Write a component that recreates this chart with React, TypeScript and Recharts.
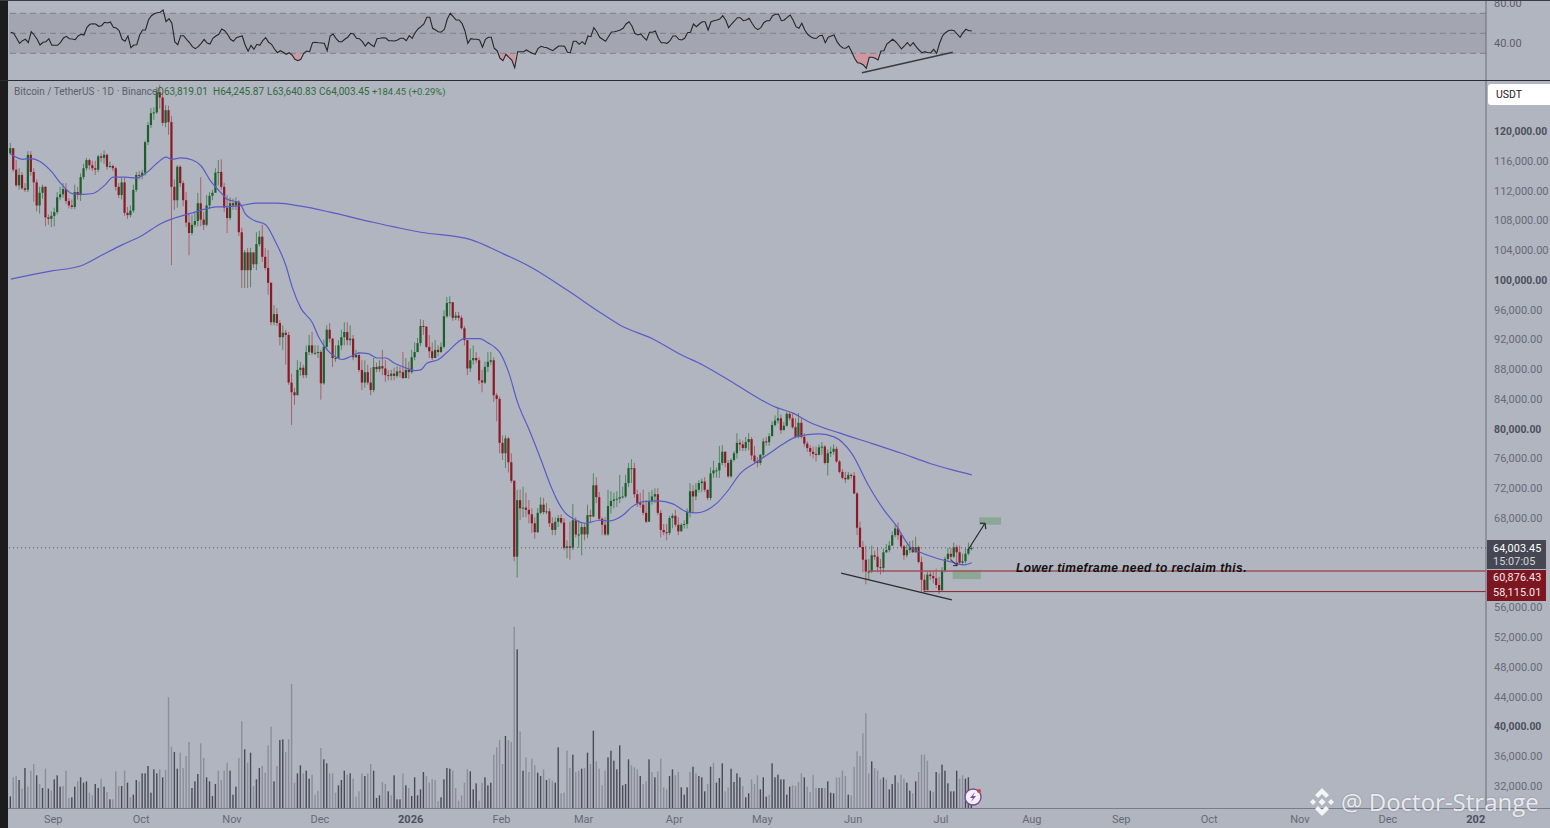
import React from "react";
import {
  Area,
  Bar,
  ComposedChart,
  Line,
  ReferenceArea,
  ReferenceLine,
  XAxis,
  YAxis,
} from "recharts";

// all prices are in thousand USDT (first bar is 17 Aug 2025)
const firstOpen = 117.0;
const closes = [
  117.7, 114.8, 112.7, 114.1, 112.3, 112.1, 116.8, 114.5, 113.1, 110,
  111.7, 112.5, 108.4, 108.2, 108.6, 109.1, 111.1, 111.5, 112.2, 110.6,
  110, 109.8, 111.8, 111.4, 113.8, 115, 116.1, 115.4, 115, 114.8,
  116.6, 116.4, 116.8, 115.2, 115.3, 115, 112.5, 111.4, 113.1, 109,
  108.7, 109.3, 112.1, 114.1, 114, 114.4, 118.5, 120.8, 122.4, 122.5,
  125.2, 124.5, 121.1, 122.8, 121.2, 112.5, 110.7, 115.2, 113, 110.7,
  107.7, 106.3, 107.4, 107.9, 110.3, 108.1, 107.4, 110, 111.3, 111.7,
  114.4, 114.5, 112.5, 109.7, 108.3, 110.3, 110, 110.5, 106.4, 101.3,
  103.7, 101.3, 103.7, 102.1, 104.8, 105.8, 103.1, 101.6, 99.6, 94.3,
  95.4, 94.2, 92.3, 92.9, 92.6, 86.2, 84.9, 84.5, 87.9, 88.2,
  87.2, 90.3, 91.2, 90.2, 90.2, 90.3, 86.1, 91, 93.3, 92.1,
  89.5, 89.5, 91.2, 92.3, 93, 91.9, 92.1, 89.6, 89.9, 87.9,
  86.2, 87.6, 86.2, 85.2, 88.3, 88, 88.4, 88.1, 87.2, 87.1,
  87.4, 87.1, 87.7, 87.6, 86.8, 87.9, 87.6, 89.6, 90.3, 91.5,
  93.8, 93.7, 91, 90.4, 89.5, 90.6, 90.3, 91, 95.1, 96.9,
  97, 94.9, 95.2, 94.9, 93.5, 91.9, 88.1, 89.2, 89.5, 89.2,
  86.5, 86.2, 88.3, 89, 89.2, 84.5, 84, 78.1, 76.7, 78.7,
  75.5, 73, 62.8, 70.4, 69.3, 69.4, 69.1, 68.5, 67.3, 66.1,
  68.7, 69.8, 68.8, 68.9, 67.3, 66.4, 67.5, 68, 67.4, 64,
  64.2, 64, 67.7, 65.8, 65.8, 66.8, 65.8, 68.4, 68.2, 72.4,
  70.8, 67.9, 67.1, 65.8, 69.6, 70.3, 70.5, 70.6, 70.8, 70.9,
  72.7, 74.7, 74.7, 71.2, 70, 69.8, 68.7, 67.5, 70.3, 70.9,
  71.2, 68.7, 66.4, 66.1, 66, 68, 68.3, 67.1, 66.2, 67.1,
  67.2, 68.8, 71.6, 70.9, 71.8, 72.7, 72.9, 71.8, 70.7, 74,
  74.4, 74.4, 75.4, 76.9, 75.4, 73.6, 75.8, 76.7, 78.1, 77.9,
  77.4, 78.2, 78.6, 76.4, 75.6, 75.4, 76.5, 78.3, 78.2, 79,
  80.5, 81.1, 81.4, 79.8, 80.4, 82, 81.4, 80.2, 78.9, 80.8,
  78.9, 78, 77.4, 76.9, 76.6, 76.5, 77.5, 77.6, 75.4, 76.7,
  76.9, 77.3, 75.6, 74.2, 73.4, 73.2, 73.8, 73.7, 71.3, 66.7,
  64.1, 62.4, 60.8, 60.8, 63, 62.8, 61.4, 61.3, 63.4, 63.7,
  64.3, 65.7, 66.6, 65.7, 64.2, 63, 63.7, 64.1, 63.4, 64.1,
  62.1, 59.7, 58.3, 60.4, 60.2, 59.9, 59, 58.3, 60.9, 62.5,
  63.2, 62.8, 64.1, 63.4, 62, 62.2, 63.2, 63.82, 64.0,
];
const highs = [
  118.4, 117.3, 116.1, 115, 114.5, 113, 117.3, 117.3, 115, 113.5,
  112.5, 112.8, 112.6, 108.8, 109.2, 109.7, 111.8, 112.5, 113, 113,
  111, 110.8, 112.8, 112.5, 114.3, 115.6, 116.4, 116.3, 116, 116,
  116.8, 117, 117.4, 117, 115.9, 115.5, 115.2, 113, 113.7, 113.7,
  109.8, 110, 112.8, 114.5, 114.6, 114.8, 118.7, 121.2, 123.1, 123.2,
  125.9, 126.2, 125.2, 123.5, 123.4, 122, 113.5, 115.4, 115.4, 113.3,
  111.8, 109, 108.7, 109.1, 111.7, 113.8, 109.1, 111.4, 111.8, 112.1,
  115, 116.1, 116.2, 113, 111.4, 111.1, 110.9, 111.1, 110.7, 107,
  104, 104.3, 104.3, 103.3, 106.4, 106.6, 107.4, 104.3, 104, 99.7,
  96.6, 96.2, 94.6, 93.9, 93.3, 93, 87.4, 85.5, 89.2, 89,
  88.6, 91.2, 92.6, 93, 91.2, 91.2, 90.6, 92, 93.9, 94.2,
  92.2, 91.2, 91.9, 93.3, 94.3, 94.3, 93.9, 92.6, 90.6, 90.3,
  89.2, 89.2, 88.6, 88.2, 89.5, 88.9, 89.2, 90.6, 89.2, 87.9,
  87.9, 88.2, 88.4, 88.3, 90.3, 89.5, 89, 90.6, 91.6, 92.2,
  94.7, 94.6, 93.8, 92.6, 91.6, 91.9, 91.2, 91.6, 95.9, 97.7,
  97.8, 97, 95.7, 95.7, 95.2, 93.8, 91.9, 90.8, 91.2, 90.3,
  89.6, 87.9, 89, 90.3, 90.3, 89.6, 84.8, 84.3, 79.1, 79.1,
  78.9, 76.7, 73.1, 71.8, 71.8, 72.2, 71.4, 70.4, 69.3, 68.1,
  69.3, 70.8, 70.7, 70, 69.3, 68.1, 68.1, 68.4, 68.5, 68,
  65, 67.5, 69.9, 68.1, 67.7, 67.3, 67.3, 69.8, 69.1, 74,
  73.5, 71.5, 68.1, 68.1, 71.8, 71.6, 71.4, 71.6, 73.8, 72.2,
  73.8, 75.4, 75.9, 75.4, 71.8, 71.4, 71.8, 70.4, 71.5, 71.8,
  72, 72, 69.1, 67.2, 67.2, 68.3, 68.6, 69.1, 68.1, 67.3,
  67.7, 69.3, 72.7, 72.4, 72.7, 73.1, 73.3, 73.5, 71.8, 74.8,
  75.7, 74.8, 77.7, 77.8, 77, 75.8, 76, 77, 79.4, 78.6,
  78.4, 78.9, 79.4, 78.9, 77.7, 76.2, 76.6, 78.7, 78.9, 79.4,
  81, 81.8, 82.8, 81.9, 80.9, 82.3, 82.3, 82.1, 81.4, 82.1,
  81.4, 79.4, 78.3, 77.8, 77.6, 77.6, 77.9, 78.2, 77.8, 77.2,
  77.6, 77.9, 77.6, 75.8, 74.6, 74.2, 74.2, 74, 74.2, 71.5,
  67.5, 64.9, 64.3, 62.5, 64.3, 63.6, 64.1, 62.5, 63.9, 64.5,
  64.9, 66.2, 67.2, 67.4, 66, 64.4, 64.4, 64.9, 65, 65.5,
  64.3, 62.8, 60.4, 60.8, 61, 60.8, 61.2, 60.1, 61.4, 62.8,
  64, 64, 64.7, 64.4, 64.3, 63.2, 64, 64.7, 64.25,
];
const lows = [
  116.8, 114.5, 112.5, 112.1, 112.1, 111.8, 111.8, 114, 110.5, 109.2,
  108.9, 110.9, 107.2, 107.4, 107.1, 107.2, 108.8, 110.7, 111, 110.2,
  109.6, 109.5, 109.5, 110.8, 110.6, 113.5, 114.7, 114.8, 114.6, 114.1,
  114.5, 115.8, 115.6, 114.8, 115, 114.6, 112, 111, 110.8, 108.6,
  108.2, 108.4, 109, 111.8, 113.5, 113.5, 114, 118.1, 120.4, 121.5,
  122.3, 123, 120.7, 120.5, 119.5, 102, 109.4, 109.7, 112.5, 109.9,
  107.1, 103.3, 106, 107.1, 107.2, 107.2, 106.7, 107.2, 109.5, 110.7,
  112.1, 112.7, 112.1, 109.1, 106.3, 108, 109.4, 109.4, 105.9, 98.9,
  98.9, 98.9, 99, 101.6, 101.3, 104.5, 102.4, 101.3, 98, 93.9,
  93.9, 93.8, 91.2, 90.6, 88.6, 85.9, 80.5, 83.2, 84.5, 87.1,
  86.8, 86.8, 89.9, 89.9, 89.9, 89.5, 83.9, 85.9, 90.6, 91.6,
  88.3, 89, 89.5, 90.6, 91.2, 91.2, 91.2, 89.2, 89.5, 87.6,
  85.2, 85.5, 85.9, 84.5, 84.9, 87.6, 87.6, 87.2, 86.3, 86.5,
  86.5, 86.5, 86.8, 86.9, 86.7, 86.8, 86.7, 87.4, 89.2, 90.3,
  91.1, 92.6, 90.8, 89.5, 89.2, 89.5, 89.7, 90.2, 90.8, 94.9,
  95.1, 94.5, 94.6, 94.5, 93.3, 91.2, 87.2, 87.6, 88.6, 88.8,
  86, 84.9, 86, 87.6, 88.6, 83.6, 81, 76.7, 75.8, 74.7,
  74.1, 72.7, 62.2, 60, 67.7, 68.1, 68.1, 67.3, 66, 65.2,
  66, 68.5, 68.5, 68.5, 66.8, 65.7, 65.7, 66.8, 67.2, 63.7,
  62.6, 62.4, 63.7, 65.4, 64, 63, 65, 65.3, 67.3, 68.1,
  70, 67.7, 65.7, 65.6, 65.6, 68.6, 69.3, 69.5, 70, 70.6,
  70.7, 72.2, 72.7, 70.7, 69.5, 69.4, 68.4, 67.3, 67.7, 69.8,
  70, 68.4, 65.4, 65.7, 65, 65.7, 66.6, 66.8, 65.7, 66.5,
  66.6, 66.6, 68.1, 68.7, 70.4, 71.4, 71.5, 71.5, 70.4, 70.4,
  73.4, 73.4, 73.4, 75.1, 74.8, 73.4, 73.4, 75.6, 76, 77,
  77, 77, 77.1, 75.8, 75.4, 74.8, 75.1, 76.1, 77.7, 77.7,
  79, 80.3, 80.7, 79.3, 79.8, 80.3, 81.1, 80, 78.7, 78.7,
  78.7, 77.6, 76.9, 76.3, 76, 75.6, 76.4, 76.5, 75.2, 73.7,
  76.2, 76.5, 75.4, 74, 73.2, 72.7, 73.2, 73.3, 71.2, 65.7,
  64, 60.7, 59.1, 59.7, 60.6, 62.4, 60.7, 60.4, 60.7, 63.3,
  63.4, 64.3, 65.4, 65.1, 64, 62.4, 62.7, 63.3, 63.3, 63.3,
  61.9, 58, 58, 58.6, 59.7, 59.2, 58.6, 57.8, 58.2, 60.7,
  62.2, 62.2, 62.6, 61.7, 61.7, 61.7, 61.9, 63, 63.64,
];

// thousand BTC, and tone of each volume bar as drawn (d = dark, l = light)
const volumes = [
  8.75, 23, 24, 21, 14.5, 30, 16, 28, 33, 24.5,
  18, 15, 29.5, 14.5, 13, 21.5, 24.5, 16, 16.5, 28,
  7.5, 8, 16, 20, 23, 19, 20, 11.5, 9.5, 18,
  15, 22, 16, 12, 6.5, 6.5, 27.5, 16.5, 16.5, 28,
  19, 8, 10, 21, 20, 26, 26, 31.5, 11.5, 29,
  26, 29, 23, 28.5, 83, 46, 42, 29.5, 41.5, 30,
  39, 49.5, 15, 20, 25.5, 48.5, 37.5, 23, 20, 9,
  18, 28, 21, 28, 34, 28, 10, 16, 37.5, 65,
  44, 34, 41.5, 16.5, 21.5, 30, 31.5, 26.5, 47, 61,
  20, 31.5, 51, 51.5, 42, 51.5, 93, 19, 26, 32,
  26, 28, 22, 25, 10, 13, 45, 36.5, 33.5, 26,
  26, 11.5, 17, 21, 28, 25, 26, 22, 8.5, 12.5,
  26, 24, 26, 33, 28, 7.5, 9.5, 19.5, 18, 12.5,
  9.5, 24.5, 6.5, 6.5, 26, 17, 15, 9, 23, 9.5,
  14, 27, 24, 19, 21.5, 21, 5, 8, 21.5, 30,
  29.5, 28, 15, 5.5, 9.5, 19, 29, 27.5, 14, 18.5,
  5.5, 19, 23, 17, 19,
  40, 45.5, 51, 33, 54, 51, 49.5, 136, 119, 57.5,
  28, 38, 27, 37, 32, 26.5, 24, 29, 21, 22,
  20.5, 19, 45.5, 11, 11.5, 43, 30, 40, 27, 28,
  29.5, 30, 41.5, 33, 58, 35, 29.5, 17, 28, 38,
  43, 35.5, 29, 47, 17, 18, 36.5, 32, 30.5, 29,
  24, 18, 20, 36.5, 27, 23, 27.5, 37, 15.5, 14,
  24, 29, 24.5, 27, 15.5, 10, 15.5, 27, 31, 26,
  24, 23, 12.5, 18, 31, 34, 19, 22.5, 33.5, 12.5,
  15.5, 29.5, 19.5, 26, 23, 16.5, 8, 11, 21.5, 18,
  24.5, 14, 23, 8.5, 10, 33.5, 23, 25, 21.5, 21.5,
  10, 16, 17, 16.5, 19.5, 26, 23, 16, 12, 25,
  15, 15, 15, 15, 20, 11.5, 11, 23, 23, 28,
  24, 10, 9.5, 31, 42.5, 39, 56, 71, 26, 35,
  30, 28, 21.5, 23, 21.5, 14, 18, 24.5, 19, 25,
  22, 19, 13, 11, 20, 27, 40, 40, 35.5, 13,
  12, 27, 26, 32.5, 28, 18.5, 12.5, 12.5, 28, 22,
  24.5, 22, 23, 12,
];
const volumeTones = [
  "dlldldllld", "ldldlddd" + "ll", "lddlddd" + "lld", "dldldllldl",
  "dldd" + "lddddd", "dldll" + "lddll", "lldddlld" + "dd", "dllllddd" + "ll",
  "dldlddllll", "dlddllll" + "dd", "lddllllddl", "llddd" + "ldlll",
  "ldlldddlld", "lddd" + "ldldd" + "d", "ddlllllddd", "dllllllddd",
  "llddd",
  "lllldlll" + "dl", "dllllddldl", "lddlllldll", "dldldlllld",
  "dddddddlll", "dlldldllll", "ddlldddldl", "dddldldddl",
  "lddddlddll", "lddd" + "ldddd" + "d", "ddlllldlll", "lddlddd" + "lll",
  "ldllllllld", "llldlddd" + "ll", "lddldlllld", "ldlddddddl",
  "lddd",
].join("");

// RSI line, one value per bar
const rsiValues = [
  51, 50, 45, 40, 42.6, 44, 40.6, 51.6, 48.3, 44,
  38.3, 41, 41.6, 44.6, 38, 38, 38, 41, 45.3, 47,
  44.6, 44.3, 43.6, 47.3, 49, 48.3, 56, 59, 59.6, 59.3,
  57, 57.6, 61, 60.3, 61.3, 56, 55.3, 52.6, 44, 42,
  47.3, 35.6, 38.3, 38.6, 48.3, 53.3, 53.3, 63.3, 67.6, 69.6,
  70.6, 71, 73.3, 61.6, 64.6, 60, 41.3, 38.6, 47.6, 47.6,
  44, 40.6, 36.6, 34.6, 36.6, 40, 44, 40.3, 39.3, 45,
  47.3, 49, 54.3, 52.6, 49, 44, 42, 45.6, 46.6, 47.3,
  38.3, 32, 38, 34, 39, 38, 42.6, 45.6, 41, 39,
  34.3, 30.6, 32.6, 31, 29, 30.6, 28.3, 24, 22.6, 24,
  30, 32.3, 31.6, 40.6, 41, 40.6, 40.3, 40, 32.6, 47.3,
  49.3, 45, 41.6, 41.6, 44, 46, 50, 49.3, 45, 44.6,
  41.6, 37.3, 41, 38.6, 36.6, 44.6, 45, 45.6, 45.3, 42.6,
  42.6, 42.3, 43.3, 45, 45, 42.6, 47.6, 45, 50.6, 54.3,
  56.6, 59.3, 66, 66, 55, 53.3, 51.3, 51.3, 54, 64.3,
  70, 66.6, 63.3, 63.3, 60, 52.6, 40, 44.6, 44, 44,
  43.3, 36, 44, 46,
  46, 35, 32.6, 25, 22.6, 29, 26, 23.3, 15.6, 31.6,
  31.6, 31.6, 33.3, 31.6, 30, 29, 35, 37, 36, 35.6,
  34, 32.6, 35, 37.3, 37.3, 37, 31, 30.6, 42, 42,
  39, 41.6, 39, 47.3, 46.6, 55.6, 51.6, 46, 44, 42,
  46.6, 51.3, 51.6, 52.3, 53.3, 55, 59.3, 61.6, 57.3, 50,
  48.3, 49.3, 46, 43.3, 51, 51, 52.3, 45, 40.6, 40.6,
  40, 42.6, 47.3, 47.3, 44, 43.3, 45, 50.6, 51, 59.3,
  56.6, 59.3, 61.6, 61.6, 53.3, 61.6, 62.6, 63.3, 64.3, 67.6,
  63.3, 55.6, 59.3, 62.3, 65.6, 65.6, 62.6, 63.3, 65, 60,
  55.6, 53.6, 55.6, 60.6, 62.6, 62.6, 67.6, 69, 69.3, 62.6,
  63.3, 66, 68.3, 63.3, 56.6, 55, 60, 53.3, 49, 46.6,
  45, 45, 47.6, 48, 40.6, 46, 47.3, 48.3, 41.6, 37.6,
  35.3, 35, 37.3, 31.6, 25, 20.6, 20, 18.3, 15, 26,
  26, 25, 23.3, 32.3, 32.6, 39.3, 41.6, 44, 41.6, 38.3,
  34.3, 37.3, 40.6, 37.3, 40.6, 36.6, 33.3, 30.6, 31.6, 30.6,
  30.6, 34, 30, 40, 47.3, 50.6, 52.6, 53.3, 52.6, 49.3,
  46, 50.6, 54, 52.6, 52.6,
];

// moving averages, read at a handful of bars and joined by the line itself
const ma200Bars = [0, 14, 24, 31, 38, 45, 51, 62, 70, 77, 84, 91, 99, 109, 123, 140, 157, 167, 178, 190, 202, 208, 219, 229, 236, 246, 256, 261, 267, 273, 283, 294, 304, 314, 321, 328];
const ma200Values = [100.1, 101.2, 101.9, 103.3, 104.7, 106, 107.5, 109, 109.8, 109.9, 110.3, 110.3, 109.9, 109.1, 107.8, 106.4, 105.4, 103.7, 101.6, 98.6, 95.4, 93.9, 92.1, 89.9, 88.6, 86.3, 83.9, 82.9, 82.1, 80.8, 79.4, 78, 76.7, 75.3, 74.5, 73.8];
const ma50Bars = [0, 4, 7, 10, 14, 17, 21, 25, 28, 32, 35, 39, 43, 46, 50, 53, 55, 58, 62, 65, 68, 72, 74, 78, 80, 83, 87, 90, 94, 96, 99, 103, 105, 108, 111, 113, 116, 119, 122, 125, 128, 131, 134, 138, 140, 142, 146, 149, 155, 160, 163, 165, 167, 170, 173, 177, 181, 184, 187, 189, 192, 196, 201, 204, 209, 212, 216, 221, 226, 231, 234, 241, 245, 249, 254, 259, 263, 268, 272, 276, 281, 287, 293, 298, 302, 307, 311, 316, 321, 325, 328];
const ma50Values = [116.9, 116.2, 116.3, 115.9, 114.5, 113, 111.6, 111.5, 111.6, 112.7, 113.8, 113.8, 113.7, 114.3, 115.7, 116.5, 116.2, 116.4, 116.1, 115.3, 113.4, 111.6, 110.8, 110.4, 108.9, 108, 107.4, 105.4, 101.8, 99.1, 96.2, 94.2, 92.4, 90.6, 89.6, 89.3, 89.7, 90.2, 90.1, 89.5, 89.5, 88.8, 88.3, 87.8, 87.9, 88.8, 89.3, 90.3, 92.1, 92.1, 91.5, 91, 90.2, 87.5, 83.5, 79.8, 75.8, 72.6, 70, 68.8, 67.9, 67.3, 67.7, 67.6, 68.4, 69.5, 70.2, 70.3, 69.9, 68.8, 68.7, 70, 71.8, 74, 75.4, 76.7, 77.8, 78.9, 79.2, 79.3, 78.9, 76.7, 72.2, 69.1, 67.1, 64.1, 63.3, 62.6, 62.1, 61.7, 62];

const monthTicks = [15, 45, 76, 106, 137, 168, 196, 227, 257, 288, 318, 349, 379.5, 409.5, 440.5, 470.5, 500.5];
const monthLabels = ["Sep", "Oct", "Nov", "Dec", "2026", "Feb", "Mar", "Apr", "May", "Jun", "Jul", "Aug", "Sep", "Oct", "Nov", "Dec", "202"];
const priceTicks = [32, 36, 40, 44, 48, 52, 56, 60, 64, 68, 72, 76, 80, 84, 88, 92, 96, 100, 104, 108, 112, 116, 120].map((v) => v * 1000);
const rsiTicks = [40, 80];

// drawings on the chart: [bar, price in thousands] pairs
const wedgeLine = [[283.9, 60.6], [321.7, 57]];
const upArrow = [[[327.2, 63.7], [333, 67.3]], [[331.3, 67.3], [333, 67.3]], [[333.3, 66.5], [333, 67.3]]];
const smallArrow = [[[321.4, 62.4], [323.5, 61.6]], [[322.1, 61.6], [323.5, 61.6]], [[323.5, 62], [323.5, 61.6]]];
const rsiTrend = [[291, 10.6], [322, 31]];
const lastPrice = 64003.45;
const levelHigh = { from: 293, price: 60876.43 };
const levelLow = { from: 312, price: 58115.01 };
const targetBox = { x1: 331, x2: 338.5, y1: 67100, y2: 68100 };
const supportBox = { x1: 322, x2: 331.6, y1: 59800, y2: 61000 };

const table = closes.map((close, i) => {
  const open = i === 0 ? firstOpen : closes[i - 1];
  return {
    bar: i + 0.5,
    open: open * 1000,
    close: close * 1000,
    range: [lows[i] * 1000, highs[i] * 1000],
    volume: volumes[i],
    tone: volumeTones[i],
    rsi: rsiValues[i],
    oversold: rsiValues[i] < 30 ? [rsiValues[i], 30] : null,
    ma50: ma50Bars.includes(i) ? ma50Values[ma50Bars.indexOf(i)] * 1000 : undefined,
    ma200: ma200Bars.includes(i) ? ma200Values[ma200Bars.indexOf(i)] * 1000 : undefined,
  };
});

const WIDTH = 1550;
const BAR_DOMAIN: [number, number] = [-0.1, 504];
const BG = "#b1b5c0";
const FONT = "Roboto, sans-serif";

function Candle(props: any) {
  const { x, y, width, height, payload } = props;
  const [low, high] = payload.range;
  const perPrice = height / (high - low);
  const cx = x + width / 2;
  const up = payload.close >= payload.open;
  const top = y + (high - Math.max(payload.open, payload.close)) * perPrice;
  const bodyHeight = Math.max(Math.abs(payload.close - payload.open) * perPrice, 1);
  return (
    <g>
      <line x1={cx} x2={cx} y1={y} y2={y + height} stroke={up ? "#4f8a5c" : "#a8626b"} strokeWidth={1} />
      <rect x={cx - 1.1} y={top} width={2.2} height={bodyHeight} fill={up ? "#1d5e2c" : "#8a1a24"} />
    </g>
  );
}

function VolumeBar(props: any) {
  const { x, y, width, height, payload } = props;
  return <rect x={x + width / 2 - 0.7} y={y} width={1.4} height={height} fill={payload.tone === "d" ? "#484b56" : "#8b8e9a"} />;
}

function PriceTick(props: any) {
  const { x, y, payload } = props;
  const strong = payload.value % 20000 === 0;
  return (
    <text x={x} y={y + 4} fontFamily={FONT} fontSize={strong ? 10.4 : 11} fontWeight={strong ? 700 : 400} fill={strong ? "#4c505c" : "#666a76"}>
      {payload.value.toLocaleString("en-US", { minimumFractionDigits: 2 })}
    </text>
  );
}

function RsiTick(props: any) {
  const { x, y, payload } = props;
  return (
    <text x={x} y={y + 4} fontFamily={FONT} fontSize={11} fill="#5c606c">
      {payload.value.toFixed(2)}
    </text>
  );
}

function segment(points: number[][], color: string, width: number, key?: number) {
  return (
    <ReferenceLine
      key={key}
      segment={[
        { x: points[0][0], y: points[0][1] * 1000 },
        { x: points[1][0], y: points[1][1] * 1000 },
      ]}
      stroke={color}
      strokeWidth={width}
    />
  );
}

function RsiPane() {
  return (
    <ComposedChart
      width={WIDTH}
      height={80}
      data={table}
      margin={{ top: 0, right: 0, bottom: 0, left: 9 }}
      style={{ position: "absolute", left: 0, top: 0 }}
    >
      <XAxis dataKey="bar" type="number" domain={BAR_DOMAIN} allowDataOverflow hide />
      <YAxis
        orientation="right"
        width={64}
        domain={[3.3, 83.3]}
        ticks={rsiTicks}
        interval={0}
        tickLine={false}
        axisLine={{ stroke: "#6b6e79" }}
        tick={RsiTick}
      />
      <ReferenceArea y1={30} y2={70} fill="#a3a6b1" fillOpacity={1} stroke="none" />
      {[30, 50, 70].map((level) => (
        <ReferenceLine key={level} y={level} stroke="#7d808b" strokeDasharray="6 4" />
      ))}
      <Area dataKey="oversold" stroke="none" fill="#d98f97" fillOpacity={0.75} isAnimationActive={false} connectNulls={false} />
      <Line dataKey="rsi" stroke="#25262b" strokeWidth={1.1} dot={false} isAnimationActive={false} />
      <ReferenceLine
        segment={[
          { x: rsiTrend[0][0], y: rsiTrend[0][1] },
          { x: rsiTrend[1][0], y: rsiTrend[1][1] },
        ]}
        stroke="#3a3b40"
        strokeWidth={1.4}
      />
    </ComposedChart>
  );
}

function VolumePane() {
  return (
    <ComposedChart
      width={WIDTH}
      height={748}
      data={table}
      margin={{ top: 0, right: 64, bottom: 0, left: 9 }}
      style={{ position: "absolute", left: 0, top: 80 }}
    >
      <XAxis
        dataKey="bar"
        type="number"
        domain={BAR_DOMAIN}
        allowDataOverflow
        ticks={monthTicks}
        height={20}
        interval={0}
        tickLine={false}
        axisLine={false}
        tick={(p: any) => {
          const label = monthLabels[monthTicks.indexOf(p.payload.value)];
          const bold = label === "2026" || label === "202";
          return (
            <text x={p.x} y={p.y + 7} textAnchor="middle" fontFamily={FONT} fontSize={11} fontWeight={bold ? 700 : 400} fill={bold ? "#4c505c" : "#666a76"}>
              {label}
            </text>
          );
        }}
      />
      <YAxis hide domain={[0, 546]} />
      <Bar dataKey="volume" barSize={2} shape={VolumeBar} isAnimationActive={false} />
    </ComposedChart>
  );
}

function PricePane() {
  return (
    <ComposedChart
      width={WIDTH}
      height={748}
      data={table}
      margin={{ top: 0, right: 0, bottom: 0, left: 9 }}
      style={{ position: "absolute", left: 0, top: 80 }}
    >
      <XAxis dataKey="bar" type="number" domain={BAR_DOMAIN} allowDataOverflow height={20} tick={false} tickLine={false} axisLine={false} />
      <YAxis
        orientation="right"
        width={64}
        domain={[29040, 126854]}
        allowDataOverflow
        ticks={priceTicks}
        interval={0}
        tickLine={false}
        axisLine={{ stroke: "#6b6e79" }}
        tick={PriceTick}
      />
      <ReferenceLine y={lastPrice} stroke="#565964" strokeDasharray="1 3" />
      <ReferenceLine
        segment={[{ x: levelHigh.from, y: levelHigh.price }, { x: 504, y: levelHigh.price }]}
        stroke="#a0505a"
        strokeWidth={1.6}
      />
      <ReferenceLine
        segment={[{ x: levelLow.from, y: levelLow.price }, { x: 504, y: levelLow.price }]}
        stroke="#8e1f28"
        strokeWidth={1}
      />
      <Bar dataKey="range" barSize={2} shape={Candle} isAnimationActive={false} />
      <Line dataKey="ma200" connectNulls type="monotone" stroke="#5a5cc4" strokeWidth={1.2} dot={false} isAnimationActive={false} />
      <Line dataKey="ma50" connectNulls type="monotone" stroke="#5a5cc4" strokeWidth={1.2} dot={false} isAnimationActive={false} />
      <ReferenceArea {...targetBox} fill="#6f9a72" fillOpacity={0.55} stroke="none" />
      <ReferenceArea {...supportBox} fill="#6f9a72" fillOpacity={0.55} stroke="none" />
      {segment(wedgeLine, "#2c2d31", 1.4)}
      {upArrow.map((p, i) => segment(p, "#26272b", 1.2, i))}
      {smallArrow.map((p, i) => segment(p, "#26272b", 1, i + 10))}
    </ComposedChart>
  );
}

function Overlay() {
  const tag: React.CSSProperties = { position: "absolute", left: 1493, fontFamily: FONT, fontSize: 10.8, letterSpacing: 0.1, lineHeight: "13px", whiteSpace: "nowrap" };
  const green = "#2f6b3c";
  const head: React.CSSProperties = { position: "absolute", top: 85, fontFamily: FONT, fontSize: 10, lineHeight: "14px", whiteSpace: "nowrap" };
  return (
    <>
      <div style={{ position: "absolute", left: 0, top: 0, width: 8, height: 828, background: "#1c1c1d" }} />
      <div style={{ position: "absolute", left: 0, top: 0, width: WIDTH, height: 1, background: "#3a3c44" }} />
      <div style={{ position: "absolute", left: 0, top: 80, width: WIDTH, height: 1, background: "#2b2c31" }} />
      <div style={{ position: "absolute", left: 8, top: 808, width: WIDTH - 8, height: 1, background: "#7a7d88" }} />

      <div style={{ ...head, left: 14, color: "#5b5f6b" }}>Bitcoin / TetherUS · 1D · Binance</div>
      <div style={{ ...head, left: 157, color: green }}>O63,819.01</div>
      <div style={{ ...head, left: 213, color: green }}>H64,245.87</div>
      <div style={{ ...head, left: 267, color: green }}>L63,640.83</div>
      <div style={{ ...head, left: 319, color: green }}>C64,003.45</div>
      <div style={{ ...head, left: 372, color: green, fontSize: 9.4 }}>+184.45 (+0.29%)</div>

      <div style={{ position: "absolute", left: 1488, top: 84, width: 62, height: 21, background: "#fff", borderRadius: "3px 0 0 3px", fontFamily: FONT, fontSize: 10.5, lineHeight: "21px", textIndent: 8, color: "#222" }}>USDT</div>

      <div style={{ position: "absolute", left: 1487, top: 540, width: 59, height: 29, background: "#454853" }} />
      <div style={{ ...tag, top: 542, color: "#fff" }}>64,003.45</div>
      <div style={{ ...tag, top: 555, color: "#d5d7dc" }}>15:07:05</div>
      <div style={{ position: "absolute", left: 1487, top: 570, width: 59, height: 31, background: "#7c1620" }} />
      <div style={{ ...tag, top: 571, color: "#f6e6e8" }}>60,876.43</div>
      <div style={{ ...tag, top: 586, color: "#f6e6e8" }}>58,115.01</div>

      <div style={{ position: "absolute", left: 1016, top: 561, fontFamily: "'Liberation Sans', sans-serif", fontSize: 12, fontWeight: 700, fontStyle: "italic", letterSpacing: 0.42, color: "#111", whiteSpace: "nowrap" }}>
        Lower timeframe need to reclaim this.
      </div>

      <svg width={WIDTH} height={828} style={{ position: "absolute", left: 0, top: 0, pointerEvents: "none" }}>
        <circle cx={973} cy={797} r={8} fill="#f3f0f6" stroke="#7d4a9e" strokeWidth={1.4} />
        <path d="M975 792 L970 798 L973 798 L971 802 L976 796 L973 796 Z" fill="#7d4a9e" />
        <circle cx={979} cy={791} r={2} fill="#c0484f" />
        <g fill="#f4f5f7">
          <path d="M1322 788 L1329 795 L1326 798 L1322 794 L1318 798 L1315 795 Z" />
          <path d="M1322 816 L1329 809 L1326 806 L1322 810 L1318 806 L1315 809 Z" />
          <path d="M1322 798.5 L1325.5 802 L1322 805.5 L1318.5 802 Z" />
          <path d="M1313 799 L1316 802 L1313 805 L1310 802 Z" />
          <path d="M1331 799 L1334 802 L1331 805 L1328 802 Z" />
        </g>
      </svg>
      <div style={{ position: "absolute", left: 1341, top: 785, fontFamily: "'Open Sans', sans-serif", fontSize: 24, color: "rgba(246,247,249,0.88)", lineHeight: "34px", whiteSpace: "nowrap", textShadow: "0 0 2px rgba(70,72,80,.35)" }}>
        @ Doctor-Strange
      </div>
    </>
  );
}

export default function App() {
  return (
    <div style={{ position: "absolute", left: 0, top: 0, width: WIDTH, height: 828, background: BG, overflow: "hidden" }}>
      <RsiPane />
      <VolumePane />
      <PricePane />
      <Overlay />
    </div>
  );
}
